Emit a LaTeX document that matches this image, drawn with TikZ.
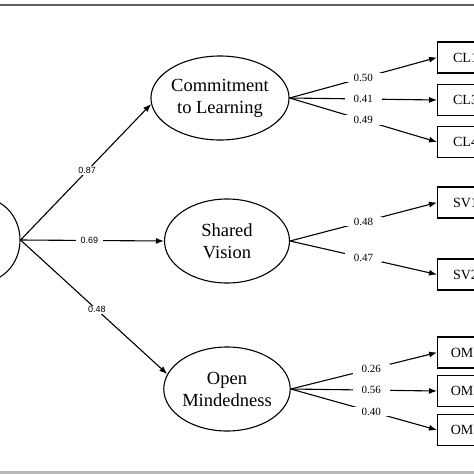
\documentclass[tikz,border=0pt]{standalone}
\usepackage{fontspec}
\setmainfont{Liberation Serif}
\newfontfamily\labsans{Liberation Sans}
\usetikzlibrary{shapes.geometric,arrows.meta}
\begin{document}
\begin{tikzpicture}[x=1pt,y=-1pt,
  latent/.style={draw,ellipse,line width=1.1pt,minimum width=125pt,minimum height=84pt,inner sep=0pt,align=center,font=\fontsize{18.5}{22}\selectfont},
  obs/.style={draw,rectangle,line width=1.1pt,minimum width=56pt,minimum height=31pt,inner sep=0pt,anchor=west,font=\fontsize{14}{16}\selectfont},
  arr/.style={line width=1.1pt,-{Latex[length=8pt,width=6pt]}},
  wl/.style={fill=white,inner xsep=9pt,inner ysep=1pt,font=\fontsize{11}{12}\selectfont},
  wls/.style={fill=white,inner xsep=5pt,inner ysep=1pt,font=\labsans\fontsize{9}{10}\selectfont}]
\useasboundingbox (0,0) rectangle (474,474);
\clip (0,0) rectangle (474,474);
\fill[white] (0,0) rectangle (474,474);
% frame lines
\fill[gray!75!black] (0,3.5) rectangle (474,5.5);
\fill[gray!55] (0,470.5) rectangle (474,474);
% latent variables
\node[latent,minimum width=76pt] (root) at (-18,240) {};
\node[latent] (comm) at (220,98) {Commitment\\to Learning};
\node[latent] (sv) at (227,241) {Shared\\Vision};
\node[latent] (open) at (227,389) {Open\\Mindedness};
% observed
\node[obs] (cl1) at (437,57.5) {CL1};
\node[obs] (cl3) at (437,100) {CL3};
\node[obs] (cl4) at (437,142) {CL4};
\node[obs] (sv1) at (437,202.5) {SV1};
\node[obs] (sv2) at (437,274.5) {SV2};
\node[obs] (om1) at (437,352.5) {OM1};
\node[obs] (om2) at (437,391) {OM2};
\node[obs] (om3) at (437,430) {OM3};
% structural paths
\draw[arr] (root.east) -- node[wls,pos=0.51] {0.87} (comm.185);
\draw[arr] (root.east) -- node[wls,pos=0.48] {0.69} (sv.west);
\draw[arr] (root.east) -- node[wls,pos=0.52] {0.48} (open.166);
% loadings
\draw[arr] (comm.east) -- node[wl,pos=0.5] {0.50} (cl1.west);
\draw[arr] (comm.east) -- node[wl,pos=0.5] {0.41} (cl3.west);
\draw[arr] (comm.east) -- node[wl,pos=0.5] {0.49} (cl4.west);
\draw[arr] (sv.east) -- node[wl,pos=0.5] {0.48} (sv1.west);
\draw[arr] (sv.east) -- node[wl,pos=0.5] {0.47} (sv2.west);
\draw[arr] (open.east) -- node[wl,pos=0.55] {0.26} (om1.west);
\draw[arr] (open.east) -- node[wl,pos=0.55] {0.56} (om2.west);
\draw[arr] (open.east) -- node[wl,pos=0.55] {0.40} (om3.west);
\end{tikzpicture}
\end{document}
